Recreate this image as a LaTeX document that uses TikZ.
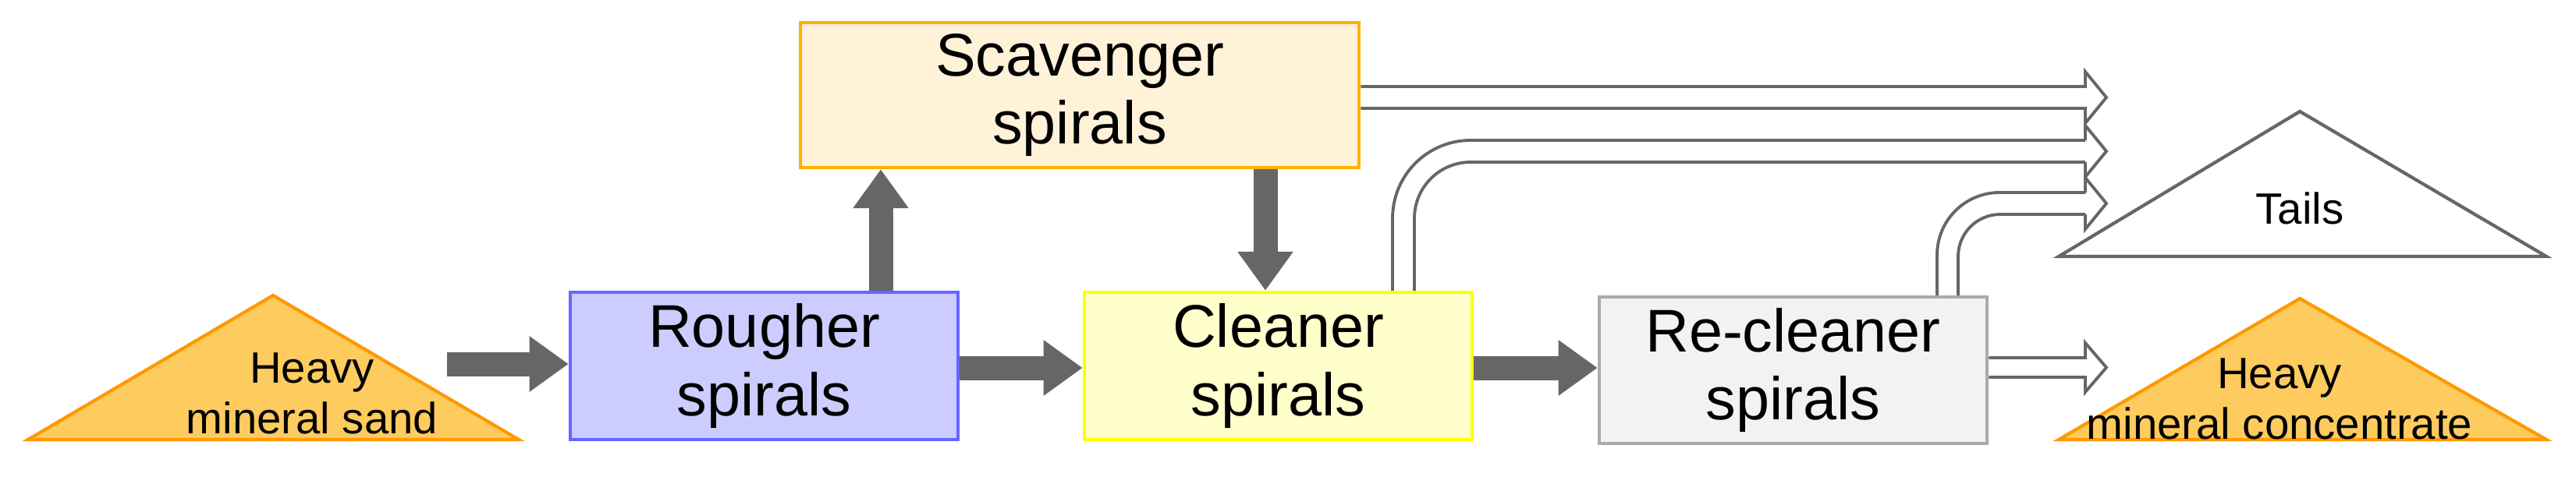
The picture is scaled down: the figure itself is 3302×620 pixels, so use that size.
\documentclass[tikz,border=0pt]{standalone}
\usepackage{fontspec}
\setmainfont{Liberation Sans}
\usetikzlibrary{arrows.meta}
\definecolor{arrgray}{HTML}{666666}
\begin{document}
\begin{tikzpicture}[x=0.01cm,y=-0.01cm,
  box/.style={draw,line width=1.2pt,minimum width=4.97cm,minimum height=1.89cm,align=center,font=\fontsize{22}{25}\selectfont,inner sep=0pt},
  tri/.style={line width=1.2pt,line join=miter},
  small/.style={align=center,font=\fontsize{16}{18.5}\selectfont,inner sep=0pt},
  fat/.style={arrgray,line width=0.31cm,-{Triangle[length=0.5cm,width=0.68cm]}},
  thin/.style={arrgray,line width=1.1pt}]
\useasboundingbox (0,0) rectangle (3302,620);
% triangles
\draw[tri,draw={rgb,255:red,255;green,153;blue,0},fill={rgb,255:red,253;green,203;blue,94}] (36,564) -- (350,379) -- (665,564) -- cycle;
\node[small] (sand) at (400,505) {Heavy\\mineral sand};
\draw[tri,draw=arrgray,fill=white] (2639,329) -- (2948,143) -- (3264,329) -- cycle;
\node[small] (tails) at (2948,267) {Tails};
\draw[tri,draw={rgb,255:red,255;green,153;blue,0},fill={rgb,255:red,253;green,203;blue,94}] (2639,564) -- (2948,383) -- (3264,564) -- cycle;
\node[small] (conc) at (2922,512) {Heavy\\mineral concentrate};
% boxes
\node[box,draw={rgb,255:red,102;green,102;blue,255},fill={rgb,255:red,204;green,204;blue,255}] (rough) at (979.5,469.5) {Rougher\\spirals};
\node[box,draw={rgb,255:red,255;green,176;blue,0},fill={rgb,255:red,255;green,242;blue,217},minimum width=7.16cm,minimum height=1.86cm] (scav) at (1384,122) {Scavenger\\spirals};
\node[box,draw={rgb,255:red,255;green,255;blue,0},fill={rgb,255:red,255;green,255;blue,204}] (clean) at (1638.5,469.5) {Cleaner\\spirals};
\node[box,draw={rgb,255:red,170;green,170;blue,170},fill={rgb,255:red,242;green,242;blue,242},minimum height=1.88cm] (recl) at (2298.5,475) {Re-cleaner\\spirals};
% fat arrows
\coordinate (a1s) at (573,467);
\draw[fat] (a1s) -- (rough.west |- a1s);
\draw[fat] (rough.east |- 0,472) -- (clean.west |- 0,472);
\draw[fat] (clean.east |- 0,472) -- (recl.west |- 0,472);
\draw[fat] (rough.north -| 1129,0) -- (scav.south -| 1129,0);
\draw[fat] (scav.south -| 1622,0) -- (clean.north -| 1622,0);
% outline arrows
\draw[thin] (scav.east |- 0,111) -- (2673,111) -- (2673,92) -- (2700,125) -- (2673,158) -- (2673,139) -- (scav.east |- 0,139);
\draw[thin,rounded corners=1cm] (clean.north -| 1785,0) -- (1785,180) -- (2673,180);
\draw[thin,rounded corners=0.72cm] (clean.north -| 1813,0) -- (1813,208) -- (2673,208);
\draw[thin] (2673,180) -- (2673,161) -- (2700,194) -- (2673,227) -- (2673,208);
\draw[thin,rounded corners=0.8cm] (recl.north -| 2483,0) -- (2483,247) -- (2673,247);
\draw[thin,rounded corners=0.54cm] (recl.north -| 2510,0) -- (2510,275) -- (2673,275);
\draw[thin] (2673,247) -- (2673,228) -- (2700,261) -- (2673,294) -- (2673,275);
\draw[thin] (recl.east |- 0,459) -- (2673,459) -- (2673,440) -- (2700,471.5) -- (2673,503) -- (2673,484) -- (recl.east |- 0,484);
\end{tikzpicture}
\end{document}
